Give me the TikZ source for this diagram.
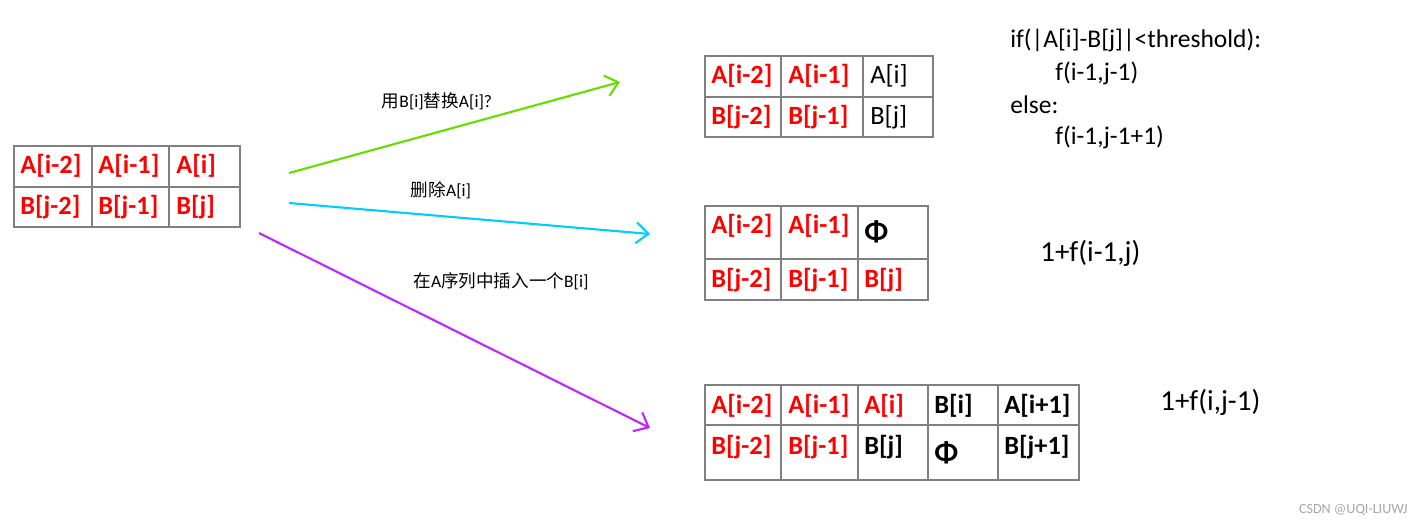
\documentclass[tikz,border=0pt]{standalone}
\usepackage{fontspec}
\setmainfont{Carlito}
\newfontfamily\cjk{Noto Sans CJK SC}
\usetikzlibrary{arrows.meta,positioning}
\definecolor{arrgreen}{RGB}{102,221,0}
\definecolor{arrcyan}{RGB}{0,204,255}
\definecolor{arrpurple}{RGB}{190,40,255}
\definecolor{gridgray}{RGB}{128,128,128}
\tikzset{
  cellr/.style={anchor=west, inner sep=0pt, text=red, font=\fontsize{15}{18}\selectfont\bfseries},
  cellk/.style={anchor=west, inner sep=0pt, text=black, font=\fontsize{15}{18}\selectfont\bfseries},
  cellp/.style={anchor=west, inner sep=0pt, text=black, font=\fontsize{15}{18}\selectfont},
  phi/.style={anchor=west, inner sep=0pt, text=black, font=\fontsize{17}{20}\selectfont\bfseries},
  lbl/.style={inner sep=0pt, font=\fontsize{10}{12}\selectfont},
  rhs/.style={anchor=west, inner sep=0pt, font=\fontsize{14.5}{17}\selectfont},
  arr/.style={-{Straight Barb[length=7pt,width=12pt]}, line width=1.2pt},
  grid/.style={draw=gridgray, line width=0.6pt}
}
\begin{document}
\begin{tikzpicture}[x=0.02cm, y=-0.02cm]
\useasboundingbox (0,0) rectangle (1421,527);
% left table
\draw[grid] (14,146) rectangle (240,227) (14,187) -- (240,187);
\foreach \x in {92,169} \draw[grid] (\x,146) -- (\x,227);
\node[cellr] (l1) at (20,166) {A[i-2]};
\node[cellr] (l2) at (98,166) {A[i-1]};
\node[cellr] (l3) at (176,166) {A[i]};
\node[cellr] (l4) at (20,207) {B[j-2]};
\node[cellr] (l5) at (98,207) {B[j-1]};
\node[cellr] (l6) at (176,207) {B[j]};
% replace
\draw[grid] (705,56) rectangle (933,137) (705,97) -- (933,97);
\foreach \x in {781,863} \draw[grid] (\x,56) -- (\x,137);
\node[cellr] (r1) at (711,76) {A[i-2]};
\node[cellr] (r2) at (788,76) {A[i-1]};
\node[cellp] (r3) at (870,76) {A[i]};
\node[cellr] (r4) at (711,117) {B[j-2]};
\node[cellr] (r5) at (788,117) {B[j-1]};
\node[cellp] (r6) at (870,117) {B[j]};
% delete
\draw[grid] (705,206) rectangle (928,300) (705,259) -- (928,259);
\foreach \x in {781,858} \draw[grid] (\x,206) -- (\x,300);
\node[cellr] (d1) at (711,226) {A[i-2]};
\node[cellr] (d2) at (788,226) {A[i-1]};
\node[phi] (d3) at (864,232) {Φ};
\node[cellr] (d4) at (711,280) {B[j-2]};
\node[cellr] (d5) at (788,280) {B[j-1]};
\node[cellr] (d6) at (864,280) {B[j]};
% insert
\draw[grid] (705,385) rectangle (1079,480) (705,425) -- (1079,425);
\foreach \x in {781,858,928,998} \draw[grid] (\x,385) -- (\x,480);
\node[cellr] (i1) at (711,406) {A[i-2]};
\node[cellr] (i2) at (788,406) {A[i-1]};
\node[cellr] (i3) at (864,406) {A[i]};
\node[cellk] (i4) at (934,406) {B[i]};
\node[cellk] (i5) at (1004,406) {A[i+1]};
\node[cellr] (i6) at (711,447) {B[j-2]};
\node[cellr] (i7) at (788,447) {B[j-1]};
\node[cellk] (i8) at (864,447) {B[j]};
\node[phi] (i9) at (934,453) {Φ};
\node[cellk] (i10) at (1004,447) {B[j+1]};
% arrows
\coordinate (gS) at (289,173); \coordinate (gE) at (620,82);
\coordinate (cS) at (289,203); \coordinate (cE) at (650,234);
\coordinate (pS) at (259,233); \coordinate (pE) at (650,428);
\draw[arr, arrgreen] (gS) -- (gE);
\draw[arr, arrcyan] (cS) -- (cE);
\draw[arr, arrpurple] (pS) -- (pE);
\node[lbl] (lg) at (437,101) {{\cjk 用}B[i]{\cjk 替换}A[i]?};
\node[lbl] (lc) at (441,190) {{\cjk 删除}A[i]};
\node[lbl] (lp) at (501,281) {{\cjk 在}A{\cjk 序列中插入一个}B[i]};
% costs
\node[rhs] (c1) at (1010,40) {if(|A[i]-B[j]|<threshold):};
\node[rhs] (c2) at (1055,73) {f(i-1,j-1)};
\node[rhs] (c3) at (1010,105) {else:};
\node[rhs] (c4) at (1055,137) {f(i-1,j-1+1)};
\node[rhs, font=\fontsize{16.5}{19}\selectfont] (c5) at (1040,253) {1+f(i-1,j)};
\node[rhs, font=\fontsize{16.5}{19}\selectfont] (c6) at (1160,402) {1+f(i,j-1)};
\node[anchor=east, inner sep=0pt, text=gray!70, font=\fontsize{8}{10}\selectfont] (wm) at (1408,510) {CSDN @UQI-LIUWJ};
\end{tikzpicture}
\end{document}
